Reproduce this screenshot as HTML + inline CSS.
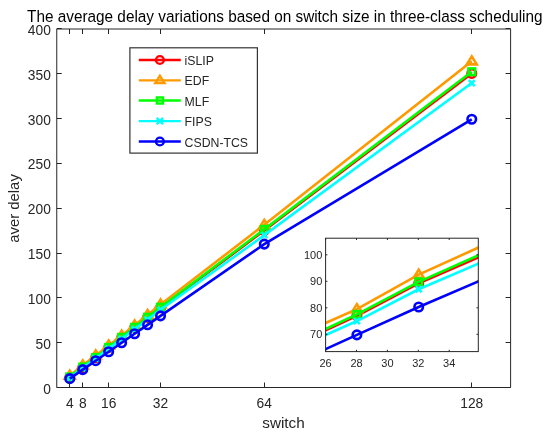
<!DOCTYPE html><html><head><meta charset="utf-8"><title>The average delay variations based on switch size in three-class scheduling</title><style>html,body{margin:0;padding:0;background:#fff;}svg{display:block;}text{font-family:"Liberation Sans",Arial,Helvetica,sans-serif;fill:#262626;}</style></head><body>
<svg width="550" height="437" viewBox="0 0 550 437">
<rect width="550" height="437" fill="#fff"/>
<defs><clipPath id="cm"><rect x="56.75" y="29.0" width="453.85" height="358.5"/></clipPath><clipPath id="ci"><rect x="325.6" y="238.2" width="152.7" height="113.40000000000003"/></clipPath></defs>
<g clip-path="url(#cm)">
<polyline points="69.77,377.63 82.74,367.66 95.70,357.68 108.67,347.71 121.64,337.74 134.61,327.77 147.57,317.79 160.54,307.82 264.28,230.57 471.76,73.45" fill="none" stroke="#ff0000" stroke-width="2.6" stroke-linejoin="round"/>
<circle cx="69.77" cy="377.63" r="4.25" fill="none" stroke="#ff0000" stroke-width="2.6"/>
<circle cx="82.74" cy="367.66" r="4.25" fill="none" stroke="#ff0000" stroke-width="2.6"/>
<circle cx="95.70" cy="357.68" r="4.25" fill="none" stroke="#ff0000" stroke-width="2.6"/>
<circle cx="108.67" cy="347.71" r="4.25" fill="none" stroke="#ff0000" stroke-width="2.6"/>
<circle cx="121.64" cy="337.74" r="4.25" fill="none" stroke="#ff0000" stroke-width="2.6"/>
<circle cx="134.61" cy="327.77" r="4.25" fill="none" stroke="#ff0000" stroke-width="2.6"/>
<circle cx="147.57" cy="317.79" r="4.25" fill="none" stroke="#ff0000" stroke-width="2.6"/>
<circle cx="160.54" cy="307.82" r="4.25" fill="none" stroke="#ff0000" stroke-width="2.6"/>
<circle cx="264.28" cy="230.57" r="4.25" fill="none" stroke="#ff0000" stroke-width="2.6"/>
<circle cx="471.76" cy="73.45" r="4.25" fill="none" stroke="#ff0000" stroke-width="2.6"/>
<polyline points="69.77,375.67 82.74,365.36 95.70,355.49 108.67,345.54 121.64,335.59 134.61,325.36 147.57,315.05 160.54,304.47 264.28,224.83 471.76,61.34" fill="none" stroke="#ff9900" stroke-width="2.6" stroke-linejoin="round"/>
<polygon points="69.77,370.67 74.77,378.67 64.77,378.67" fill="none" stroke="#ff9900" stroke-width="2.6" stroke-linejoin="miter"/>
<polygon points="82.74,360.36 87.74,368.36 77.74,368.36" fill="none" stroke="#ff9900" stroke-width="2.6" stroke-linejoin="miter"/>
<polygon points="95.70,350.49 100.70,358.49 90.70,358.49" fill="none" stroke="#ff9900" stroke-width="2.6" stroke-linejoin="miter"/>
<polygon points="108.67,340.54 113.67,348.54 103.67,348.54" fill="none" stroke="#ff9900" stroke-width="2.6" stroke-linejoin="miter"/>
<polygon points="121.64,330.59 126.64,338.59 116.64,338.59" fill="none" stroke="#ff9900" stroke-width="2.6" stroke-linejoin="miter"/>
<polygon points="134.61,320.36 139.61,328.36 129.61,328.36" fill="none" stroke="#ff9900" stroke-width="2.6" stroke-linejoin="miter"/>
<polygon points="147.57,310.05 152.57,318.05 142.57,318.05" fill="none" stroke="#ff9900" stroke-width="2.6" stroke-linejoin="miter"/>
<polygon points="160.54,299.47 165.54,307.47 155.54,307.47" fill="none" stroke="#ff9900" stroke-width="2.6" stroke-linejoin="miter"/>
<polygon points="264.28,219.83 269.28,227.83 259.28,227.83" fill="none" stroke="#ff9900" stroke-width="2.6" stroke-linejoin="miter"/>
<polygon points="471.76,56.34 476.76,64.34 466.76,64.34" fill="none" stroke="#ff9900" stroke-width="2.6" stroke-linejoin="miter"/>
<polyline points="69.77,376.93 82.74,367.06 95.70,357.47 108.67,347.42 121.64,337.38 134.61,327.34 147.57,317.29 160.54,307.25 264.28,229.40 471.76,71.75" fill="none" stroke="#00ff00" stroke-width="2.6" stroke-linejoin="round"/>
<rect x="66.47" y="373.63" width="6.60" height="6.60" fill="none" stroke="#00ff00" stroke-width="2.6"/>
<rect x="79.44" y="363.76" width="6.60" height="6.60" fill="none" stroke="#00ff00" stroke-width="2.6"/>
<rect x="92.40" y="354.17" width="6.60" height="6.60" fill="none" stroke="#00ff00" stroke-width="2.6"/>
<rect x="105.37" y="344.12" width="6.60" height="6.60" fill="none" stroke="#00ff00" stroke-width="2.6"/>
<rect x="118.34" y="334.08" width="6.60" height="6.60" fill="none" stroke="#00ff00" stroke-width="2.6"/>
<rect x="131.31" y="324.04" width="6.60" height="6.60" fill="none" stroke="#00ff00" stroke-width="2.6"/>
<rect x="144.27" y="313.99" width="6.60" height="6.60" fill="none" stroke="#00ff00" stroke-width="2.6"/>
<rect x="157.24" y="303.95" width="6.60" height="6.60" fill="none" stroke="#00ff00" stroke-width="2.6"/>
<rect x="260.98" y="226.10" width="6.60" height="6.60" fill="none" stroke="#00ff00" stroke-width="2.6"/>
<rect x="468.46" y="68.45" width="6.60" height="6.60" fill="none" stroke="#00ff00" stroke-width="2.6"/>
<polyline points="69.77,377.88 82.74,368.16 95.70,358.44 108.67,348.71 121.64,338.99 134.61,329.27 147.57,319.55 160.54,309.83 264.28,235.14 471.76,83.05" fill="none" stroke="#00ffff" stroke-width="2.6" stroke-linejoin="round"/>
<path d="M66.77,374.88L72.77,380.88M66.77,380.88L72.77,374.88" stroke="#00ffff" stroke-width="2.6" fill="none"/>
<path d="M79.74,365.16L85.74,371.16M79.74,371.16L85.74,365.16" stroke="#00ffff" stroke-width="2.6" fill="none"/>
<path d="M92.70,355.44L98.70,361.44M92.70,361.44L98.70,355.44" stroke="#00ffff" stroke-width="2.6" fill="none"/>
<path d="M105.67,345.71L111.67,351.71M105.67,351.71L111.67,345.71" stroke="#00ffff" stroke-width="2.6" fill="none"/>
<path d="M118.64,335.99L124.64,341.99M118.64,341.99L124.64,335.99" stroke="#00ffff" stroke-width="2.6" fill="none"/>
<path d="M131.61,326.27L137.61,332.27M131.61,332.27L137.61,326.27" stroke="#00ffff" stroke-width="2.6" fill="none"/>
<path d="M144.57,316.55L150.57,322.55M144.57,322.55L150.57,316.55" stroke="#00ffff" stroke-width="2.6" fill="none"/>
<path d="M157.54,306.83L163.54,312.83M157.54,312.83L163.54,306.83" stroke="#00ffff" stroke-width="2.6" fill="none"/>
<path d="M261.28,232.14L267.28,238.14M261.28,238.14L267.28,232.14" stroke="#00ffff" stroke-width="2.6" fill="none"/>
<path d="M468.76,80.05L474.76,86.05M468.76,86.05L474.76,80.05" stroke="#00ffff" stroke-width="2.6" fill="none"/>
<polyline points="69.77,378.63 82.74,369.66 95.70,360.70 108.67,351.73 121.64,342.76 134.61,333.79 147.57,324.82 160.54,315.86 264.28,244.11 471.76,119.28" fill="none" stroke="#0000ff" stroke-width="2.6" stroke-linejoin="round"/>
<circle cx="69.77" cy="378.63" r="4.25" fill="none" stroke="#0000ff" stroke-width="2.6"/>
<circle cx="82.74" cy="369.66" r="4.25" fill="none" stroke="#0000ff" stroke-width="2.6"/>
<circle cx="95.70" cy="360.70" r="4.25" fill="none" stroke="#0000ff" stroke-width="2.6"/>
<circle cx="108.67" cy="351.73" r="4.25" fill="none" stroke="#0000ff" stroke-width="2.6"/>
<circle cx="121.64" cy="342.76" r="4.25" fill="none" stroke="#0000ff" stroke-width="2.6"/>
<circle cx="134.61" cy="333.79" r="4.25" fill="none" stroke="#0000ff" stroke-width="2.6"/>
<circle cx="147.57" cy="324.82" r="4.25" fill="none" stroke="#0000ff" stroke-width="2.6"/>
<circle cx="160.54" cy="315.86" r="4.25" fill="none" stroke="#0000ff" stroke-width="2.6"/>
<circle cx="264.28" cy="244.11" r="4.25" fill="none" stroke="#0000ff" stroke-width="2.6"/>
<circle cx="471.76" cy="119.28" r="4.25" fill="none" stroke="#0000ff" stroke-width="2.6"/>
</g>
<path d="M56.75,29.0H510.6V387.5H56.75Z" fill="none" stroke="#262626" stroke-width="1"/>
<path d="M69.5,387.5v-5M69.5,29.0v5M82.5,387.5v-5M82.5,29.0v5M108.5,387.5v-5M108.5,29.0v5M160.5,387.5v-5M160.5,29.0v5M264.5,387.5v-5M264.5,29.0v5M471.5,387.5v-5M471.5,29.0v5M56.75,387.5h5M510.6,387.5h-5M56.75,342.5h5M510.6,342.5h-5M56.75,297.5h5M510.6,297.5h-5M56.75,253.5h5M510.6,253.5h-5M56.75,208.5h5M510.6,208.5h-5M56.75,163.5h5M510.6,163.5h-5M56.75,118.5h5M510.6,118.5h-5M56.75,73.5h5M510.6,73.5h-5M56.75,28.5h5M510.6,28.5h-5" stroke="#262626" stroke-width="1" fill="none"/>
<text transform="translate(69.77,408.30) scale(1,1.06)" font-size="13.8" text-anchor="middle">4</text>
<text transform="translate(82.74,408.30) scale(1,1.06)" font-size="13.8" text-anchor="middle">8</text>
<text transform="translate(108.67,408.30) scale(1,1.06)" font-size="13.8" text-anchor="middle">16</text>
<text transform="translate(160.54,408.30) scale(1,1.06)" font-size="13.8" text-anchor="middle">32</text>
<text transform="translate(264.28,408.30) scale(1,1.06)" font-size="13.8" text-anchor="middle">64</text>
<text transform="translate(471.76,408.30) scale(1,1.06)" font-size="13.8" text-anchor="middle">128</text>
<text transform="translate(50.90,393.60) scale(1,1.06)" font-size="13.8" text-anchor="end">0</text>
<text transform="translate(50.90,348.76) scale(1,1.06)" font-size="13.8" text-anchor="end">50</text>
<text transform="translate(50.90,303.92) scale(1,1.06)" font-size="13.8" text-anchor="end">100</text>
<text transform="translate(50.90,259.08) scale(1,1.06)" font-size="13.8" text-anchor="end">150</text>
<text transform="translate(50.90,214.24) scale(1,1.06)" font-size="13.8" text-anchor="end">200</text>
<text transform="translate(50.90,169.40) scale(1,1.06)" font-size="13.8" text-anchor="end">250</text>
<text transform="translate(50.90,124.56) scale(1,1.06)" font-size="13.8" text-anchor="end">300</text>
<text transform="translate(50.90,79.72) scale(1,1.06)" font-size="13.8" text-anchor="end">350</text>
<text transform="translate(50.90,34.88) scale(1,1.06)" font-size="13.8" text-anchor="end">400</text>
<text x="283.5" y="428" font-size="15.3" text-anchor="middle">switch</text>
<text transform="translate(18.6,208.5) scale(1,1.06) rotate(-90)" font-size="14.05" text-anchor="middle">aver delay</text>
<text transform="translate(284.80,22.10) scale(1,1.06)" font-size="15.35" text-anchor="middle" style="fill:#000">The average delay variations based on switch size in three-class scheduling</text>
<rect x="129.9" y="47.8" width="127.49999999999997" height="105.3" fill="#fff" stroke="#333" stroke-width="1.2"/>
<line x1="138.8" y1="60" x2="180.8" y2="60" stroke="#ff0000" stroke-width="2.4"/>
<circle cx="159.90" cy="60.00" r="3.91" fill="none" stroke="#ff0000" stroke-width="2.4"/>
<text transform="translate(184.60,65.00) scale(1,1.06)" font-size="12.3">iSLIP</text>
<line x1="138.8" y1="80.4" x2="180.8" y2="80.4" stroke="#ff9900" stroke-width="2.4"/>
<polygon points="159.90,75.80 164.50,83.16 155.30,83.16" fill="none" stroke="#ff9900" stroke-width="2.4" stroke-linejoin="miter"/>
<text transform="translate(184.60,85.40) scale(1,1.06)" font-size="12.3">EDF</text>
<line x1="138.8" y1="100.5" x2="180.8" y2="100.5" stroke="#00ff00" stroke-width="2.4"/>
<rect x="156.86" y="97.46" width="6.07" height="6.07" fill="none" stroke="#00ff00" stroke-width="2.4"/>
<text transform="translate(184.60,105.50) scale(1,1.06)" font-size="12.3">MLF</text>
<line x1="138.8" y1="121.1" x2="180.8" y2="121.1" stroke="#00ffff" stroke-width="2.4"/>
<path d="M156.75,117.95L163.05,124.25M156.75,124.25L163.05,117.95" stroke="#00ffff" stroke-width="2.4" fill="none"/>
<text transform="translate(184.60,126.10) scale(1,1.06)" font-size="12.3">FIPS</text>
<line x1="138.8" y1="141.5" x2="180.8" y2="141.5" stroke="#0000ff" stroke-width="2.4"/>
<circle cx="159.90" cy="141.50" r="3.91" fill="none" stroke="#0000ff" stroke-width="2.4"/>
<text transform="translate(184.60,146.50) scale(1,1.06)" font-size="12.3">CSDN-TCS</text>
<rect x="325.6" y="238.2" width="152.7" height="113.40000000000003" fill="#fff"/>
<g clip-path="url(#ci)">
<polyline points="295.10,344.37 356.90,315.75 418.70,283.42 542.30,229.36" fill="none" stroke="#ff0000" stroke-width="2.6" stroke-linejoin="round"/>
<circle cx="356.90" cy="315.75" r="4.25" fill="none" stroke="#ff0000" stroke-width="2.6"/>
<circle cx="418.70" cy="283.42" r="4.25" fill="none" stroke="#ff0000" stroke-width="2.6"/>
<polyline points="295.10,336.42 356.90,309.12 418.70,274.68 542.30,218.50" fill="none" stroke="#ff9900" stroke-width="2.6" stroke-linejoin="round"/>
<polygon points="356.90,304.12 361.90,312.12 351.90,312.12" fill="none" stroke="#ff9900" stroke-width="2.6" stroke-linejoin="miter"/>
<polygon points="418.70,269.68 423.70,277.68 413.70,277.68" fill="none" stroke="#ff9900" stroke-width="2.6" stroke-linejoin="miter"/>
<polyline points="295.10,343.05 356.90,314.43 418.70,281.83 542.30,226.92" fill="none" stroke="#00ff00" stroke-width="2.6" stroke-linejoin="round"/>
<rect x="353.60" y="311.12" width="6.60" height="6.60" fill="none" stroke="#00ff00" stroke-width="2.6"/>
<rect x="415.40" y="278.53" width="6.60" height="6.60" fill="none" stroke="#00ff00" stroke-width="2.6"/>
<polyline points="295.10,348.61 356.90,321.05 418.70,289.25 542.30,236.25" fill="none" stroke="#00ffff" stroke-width="2.6" stroke-linejoin="round"/>
<path d="M353.90,318.05L359.90,324.05M353.90,324.05L359.90,318.05" stroke="#00ffff" stroke-width="2.6" fill="none"/>
<path d="M415.70,286.25L421.70,292.25M415.70,292.25L421.70,286.25" stroke="#00ffff" stroke-width="2.6" fill="none"/>
<polyline points="295.10,362.92 356.90,334.83 418.70,307.00 542.30,254.01" fill="none" stroke="#0000ff" stroke-width="2.6" stroke-linejoin="round"/>
<circle cx="356.90" cy="334.83" r="4.25" fill="none" stroke="#0000ff" stroke-width="2.6"/>
<circle cx="418.70" cy="307.00" r="4.25" fill="none" stroke="#0000ff" stroke-width="2.6"/>
</g>
<rect x="325.6" y="238.2" width="152.7" height="113.40000000000003" fill="none" stroke="#262626" stroke-width="1"/>
<path d="M325.60,351.6v-1.8M325.60,238.2v1.8M356.50,351.6v-1.8M356.50,238.2v1.8M387.40,351.6v-1.8M387.40,238.2v1.8M418.30,351.6v-1.8M418.30,238.2v1.8M449.20,351.6v-1.8M449.20,238.2v1.8M325.6,334.30h1.8M478.3,334.30h-1.8M325.6,307.80h1.8M478.3,307.80h-1.8M325.6,281.30h1.8M478.3,281.30h-1.8M325.6,254.80h1.8M478.3,254.80h-1.8" stroke="#262626" stroke-width="1" fill="none"/>
<text transform="translate(325.60,367.30) scale(1,1.06)" font-size="11" text-anchor="middle">26</text>
<text transform="translate(356.50,367.30) scale(1,1.06)" font-size="11" text-anchor="middle">28</text>
<text transform="translate(387.40,367.30) scale(1,1.06)" font-size="11" text-anchor="middle">30</text>
<text transform="translate(418.30,367.30) scale(1,1.06)" font-size="11" text-anchor="middle">32</text>
<text transform="translate(449.20,367.30) scale(1,1.06)" font-size="11" text-anchor="middle">34</text>
<text transform="translate(322.30,338.30) scale(1,1.06)" font-size="11" text-anchor="end">70</text>
<text transform="translate(322.30,311.80) scale(1,1.06)" font-size="11" text-anchor="end">80</text>
<text transform="translate(322.30,285.30) scale(1,1.06)" font-size="11" text-anchor="end">90</text>
<text transform="translate(322.30,258.80) scale(1,1.06)" font-size="11" text-anchor="end">100</text>
</svg></body></html>
